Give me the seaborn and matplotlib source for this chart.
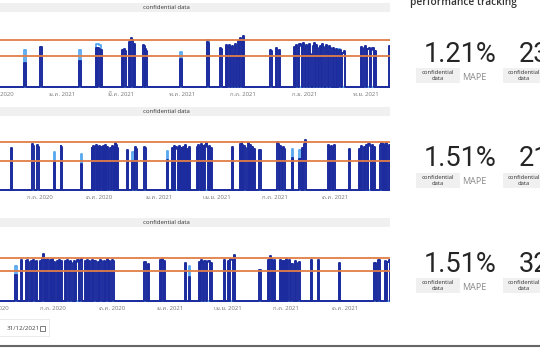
import pandas as pd
import seaborn as sns
import matplotlib.pyplot as plt
from matplotlib import font_manager, ft2font
from matplotlib.patches import Rectangle

# --- data: (first day, last day, levels held in turn) ---
# days count from each panel's first visible day
top_origin = "2020-10-31"
top_actual = [
    (24, 26, [52, 52]), (40, 42, [85, 85]), (79, 81, [55, 55]),
    (96, 102, [82, 0, 84, 80, 0, 78]), (122, 126, [78, 0, 80, 76]),
    (129, 135, [96, 0, 104, 100, 0, 92]), (143, 145, [90, 88]), (145, 147, [80, 76]),
    (180, 182, [60, 60]), (207, 209, [96, 94]), (220, 222, [82, 80]),
    (226, 244, [90, 0, 86, 90, 0, 84, 88, 0, 70, 92, 0, 60, 98, 0, 104, 96, 0, 108]),
    (270, 272, [78, 76]), (276, 280, [82, 0, 78]),
    (294, 331, [86, 0, 90, 84, 0, 92, 88, 0, 94, 80, 0, 90, 86, 0, 92, 70, 0, 88,
                94, 0, 90, 84, 0, 60, 88, 0, 92, 86, 0, 90, 74, 0, 88, 82]),
    (333, 337, [84, 0, 80]), (339, 345, [78, 0, 72, 76]),
    (361, 376, [86, 0, 82, 88, 0, 80, 84, 0, 78, 82, 0, 76]), (389, 391, [88, 88]),
]
top_forecast = [
    (24, 26, [79, 79]), (79, 81, [79, 79]), (96, 101, [92, 92, 90]),
    (180, 182, [74, 74]), (207, 209, [100, 100]), (338, 340, [80, 80]),
]
top_ticks = ["2020-11-01", "2021-01-01", "2021-03-01", "2021-05-01",
             "2021-07-01", "2021-09-01", "2021-11-01"]
top_labels = ["พ.ย. 2020", "ม.ค. 2021", "มี.ค. 2021", "พ.ค. 2021",
              "ก.ค. 2021", "ก.ย. 2021", "พ.ย. 2021"]

mid_origin = "2020-04-30"
mid_actual = [
    (17, 19, [87, 80]), (50, 52, [96, 92]), (58, 60, [94, 90]), (83, 85, [60, 60]),
    (94, 96, [92, 90]), (125, 127, [55, 55]),
    (142, 146, [88, 0, 92, 86]), (147, 150, [90, 94]), (151, 155, [88, 0, 84, 92]),
    (156, 159, [90, 86]), (160, 164, [92, 0, 88, 94]), (165, 168, [86, 90]),
    (169, 172, [80, 88]), (173, 176, [92, 86]), (177, 183, [90, 0, 98, 94, 0, 88]),
    (197, 199, [83, 80]), (205, 207, [60, 60]), (210, 212, [90, 86]), (224, 226, [90, 88]),
    (259, 261, [62, 62]), (267, 271, [88, 0, 92]), (272, 276, [90, 86]),
    (278, 282, [92, 0, 88]), (284, 289, [90, 0, 94, 88]), (290, 295, [86, 0, 90]),
    (305, 310, [90, 0, 94, 88]), (311, 316, [96, 0, 92]), (318, 322, [94, 98, 90]),
    (324, 329, [92, 0, 88]),
    (359, 362, [90, 88]), (372, 377, [96, 0, 100, 94]), (378, 382, [92, 88]),
    (384, 389, [98, 0, 94]), (390, 395, [90, 0, 86]), (402, 404, [83, 83]),
    (430, 433, [100, 96]), (434, 437, [92, 88]), (439, 442, [90, 86]),
    (452, 454, [66, 66]), (464, 466, [64, 64]), (468, 474, [88, 0, 96, 104]),
    (508, 512, [94, 0, 90]), (513, 516, [92, 88]), (517, 520, [90, 94]), (541, 543, [85, 85]),
    (557, 562, [86, 0, 92, 88]), (564, 570, [90, 0, 94]), (571, 575, [96, 92]),
    (576, 581, [94, 0, 90]), (589, 593, [94, 98]), (594, 598, [96, 0, 92]),
    (599, 604, [98, 0, 94]),
]
mid_forecast = [
    (83, 85, [80, 80]), (125, 127, [75, 75]), (205, 207, [80, 80]),
    (259, 261, [82, 82]), (452, 454, [85, 85]), (464, 466, [84, 84]),
]
mid_ticks = ["2020-04-01", "2020-07-01", "2020-10-01", "2021-01-01",
             "2021-04-01", "2021-07-01", "2021-10-01"]
mid_labels = ["เม.ย. 2020", "ก.ค. 2020", "ต.ค. 2020", "ม.ค. 2021",
              "เม.ย. 2021", "ก.ค. 2021", "ต.ค. 2021"]

bot_origin = "2020-04-09"
bot_actual = [
    (24, 26, [60, 60]), (33, 35, [95, 92]), (40, 42, [92, 90]), (43, 45, [95, 90]),
    (49, 58, [92, 0, 96, 90, 0, 94]), (63, 75, [94, 0, 100, 109, 0, 96, 92, 0, 98]),
    (78, 86, [96, 0, 92, 98, 0, 90]), (89, 97, [94, 0, 90, 96, 0, 92]),
    (102, 113, [92, 0, 96, 90, 0, 94, 88]), (116, 128, [94, 0, 90, 96, 0, 92, 98]),
    (133, 141, [92, 0, 96, 88, 0, 94]), (144, 150, [96, 0, 92, 94]),
    (153, 160, [90, 0, 96, 92]), (163, 172, [94, 0, 90, 98, 0, 92]),
    (176, 178, [95, 92]), (226, 228, [91, 91]), (231, 233, [86, 86]),
    (250, 258, [96, 0, 92, 98, 0, 94]), (289, 291, [88, 88]), (296, 298, [55, 55]),
    (312, 318, [90, 0, 95, 88]), (320, 332, [94, 0, 90, 92, 0, 88]), (350, 352, [95, 95]),
    (357, 368, [92, 0, 97, 95, 0, 107]), (406, 408, [72, 72]),
    (419, 425, [96, 0, 105, 97]), (426, 431, [92, 0, 95]),
    (438, 443, [96, 0, 92]), (444, 449, [94, 0, 98]), (450, 454, [90, 96]),
    (456, 458, [86, 86]), (462, 470, [92, 0, 88, 90]), (487, 489, [96, 96]),
    (497, 499, [96, 96]), (530, 532, [88, 88]), (586, 588, [88, 88]),
    (592, 594, [96, 96]), (602, 610, [94, 0, 90, 96]),
]
bot_forecast = [
    (24, 26, [81, 81]), (296, 298, [82, 82]), (530, 532, [75, 75]), (586, 588, [76, 76]),
]
bot_ticks = ["2020-04-01", "2020-07-01", "2020-10-01", "2021-01-01",
             "2021-04-01", "2021-07-01", "2021-10-01"]
bot_labels = mid_labels

upper_band = [100, 100, 100]
lower_band = [66, 60, 70]
mape_values = ["1.21%", "1.51%", "1.51%"]
count_values = ["23", "21", "32"]

DARK = "#1c2c9e"
LIGHT = "#56a8ee"
ORANGE = "#e27d47"

# font with Thai glyphs, if the machine has one
thai = None
for f in font_manager.fontManager.ttflist:
    try:
        if 0x0E01 in ft2font.FT2Font(f.fname).get_charmap():
            thai = f.name
            break
    except Exception:
        pass

sns.set_theme(style="white")
families = ["Open Sans", "DejaVu Sans"]
if thai:
    families = ["Open Sans", thai, "DejaVu Sans"]
plt.rcParams["font.family"] = families


def pulses_to_frame(origin, pulses, end_day):
    # each level is held for an equal share of its pulse (drawn as steps)
    days, vals = [-40], [0]
    for start, end, levels in pulses:
        step = (end - start) / len(levels)
        for k, v in enumerate(levels):
            days.append(start + k * step)
            vals.append(v)
        days.append(end)
        vals.append(0)
    days.append(end_day)
    vals.append(0)
    dates = pd.Timestamp(origin) + pd.to_timedelta(days, unit="D")
    return pd.DataFrame({"date": dates, "value": vals})


fig = plt.figure(figsize=(5.4, 3.6), dpi=100)
fig.patch.set_facecolor("white")

# overlay in pixel coordinates for the dashboard chrome
bg = fig.add_axes([0, 0, 1, 1])
bg.set_xlim(0, 540)
bg.set_ylim(360, 0)
bg.axis("off")

# (origin, actual, forecast, ticks, labels, px per day, baseline y, 100-line y, top y, bar y)
panels = [
    (top_origin, top_actual, top_forecast, top_ticks, top_labels, 1.0, 87, 40, 19, 3),
    (mid_origin, mid_actual, mid_forecast, mid_ticks, mid_labels, 0.645, 190, 142, 122, 107),
    (bot_origin, bot_actual, bot_forecast, bot_ticks, bot_labels, 0.639, 301, 258, 232, 218),
]

for i, (origin, actual, forecast, ticks, labels, ppd, base_y, hundred_y, top_y, bar_y) in enumerate(panels):
    scale = (base_y - hundred_y) / 100.0
    bottom_y = base_y + 2
    ylo = -(bottom_y - base_y) / scale
    yhi = (base_y - top_y) / scale
    ax = fig.add_axes([-20 / 540, 1 - bottom_y / 360, 410 / 540, (bottom_y - top_y) / 360])
    ax.patch.set_alpha(0)
    end_day = 390 / ppd
    df_f = pulses_to_frame(origin, forecast, end_day)
    df_a = pulses_to_frame(origin, actual, end_day)
    sns.lineplot(data=df_f, x="date", y="value", ax=ax, estimator=None, sort=False,
                 color=LIGHT, lw=1.3, drawstyle="steps-post")
    sns.lineplot(data=df_a, x="date", y="value", ax=ax, estimator=None, sort=False,
                 color=DARK, lw=1.4, drawstyle="steps-post")
    ax.axhline(upper_band[i], color=ORANGE, lw=1.3, zorder=5)
    ax.axhline(lower_band[i], color=ORANGE, lw=1.3, zorder=5)
    o = pd.Timestamp(origin)
    ax.set_xlim(o - pd.Timedelta(days=20 / ppd), o + pd.Timedelta(days=end_day))
    ax.set_ylim(ylo, yhi)
    ax.set_xticks(pd.to_datetime(ticks))
    ax.set_xticklabels(labels, fontsize=4.3, color="#777777")
    ax.tick_params(axis="x", length=0, pad=2)
    ax.set_yticks([])
    ax.set_xlabel("")
    ax.set_ylabel("")
    sns.despine(ax=ax, left=True, bottom=True)

    # title bar of the visual
    bg.add_patch(Rectangle((0, bar_y), 390, 9, color="#f0f0f0", lw=0))
    bg.text(190, bar_y + 4.5, "confidential data", ha="right", va="center",
            fontsize=4.3, color="#333333")

# KPI cards
kpi_y = [54, 158, 264]
box_y = [68, 173, 278]
for i in range(3):
    bg.text(460, kpi_y[i], mape_values[i], ha="center", va="center", fontsize=19.5,
            family="Roboto", color="#252525")
    bg.text(519, kpi_y[i], count_values[i], ha="left", va="center", fontsize=19.5,
            family="Roboto", color="#252525")
    bg.add_patch(Rectangle((416, box_y[i]), 44, 15, color="#f0f0f0", lw=0))
    bg.text(438, box_y[i] + 7.5, "confidential\ndata", ha="center", va="center",
            fontsize=4.2, color="#333333", linespacing=1.1)
    bg.text(462, box_y[i] + 9, "MAPE", ha="left", va="center", fontsize=6.5,
            color="#888888")
    bg.add_patch(Rectangle((503, box_y[i]), 40, 15, color="#f0f0f0", lw=0))
    bg.text(524, box_y[i] + 7.5, "confidential\ndata", ha="center", va="center",
            fontsize=4.2, color="#333333", linespacing=1.1)

bg.text(410, 3, "performance tracking", ha="left", va="center", fontsize=7.3,
        weight="semibold", color="#333333")

# date slicer and bottom rule
bg.add_patch(Rectangle((-2, 319), 51, 17, fill=False, ec="#e6e6e6", lw=0.6))
bg.text(7, 328, "31/12/2021", ha="left", va="center", fontsize=4.5, color="#444444")
bg.add_patch(Rectangle((40, 325.5), 5, 5, fill=False, ec="#666666", lw=0.6))
bg.plot([0, 540], [345.5, 345.5], color="#666666", lw=1.5)

fig.savefig("out.png", dpi=100)
